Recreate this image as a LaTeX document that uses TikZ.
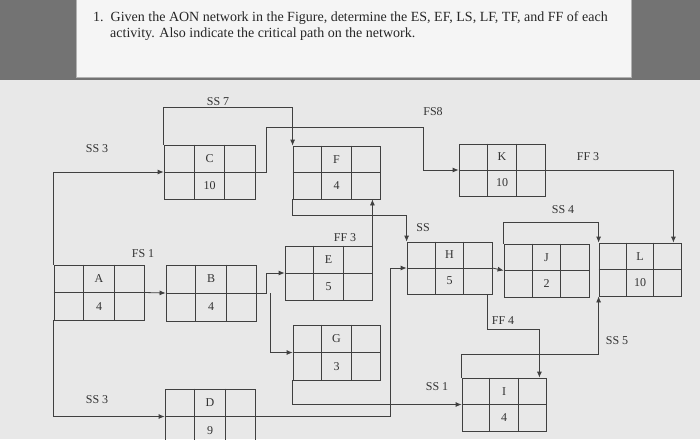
\documentclass[tikz,border=0pt]{standalone}
\usepackage{fontspec}
\setmainfont{Liberation Serif}
\usetikzlibrary{calc,arrows.meta}
\newcommand\act[7]{%
  \node[actbox,minimum width=#4pt,minimum height=#5pt] (#1) at (#2,#3) {};
  \draw[ln] ($(#1.north west)!1/3!(#1.north east)$) -- ($(#1.south west)!1/3!(#1.south east)$);
  \draw[ln] ($(#1.north west)!2/3!(#1.north east)$) -- ($(#1.south west)!2/3!(#1.south east)$);
  \draw[ln] (#1.west) -- (#1.east);
  \node[txt] at ($(#1.center)+(0,-#5/4)$) {#6};
  \node[txt] at ($(#1.center)+(0,#5/4)$) {#7};
}
\begin{document}
\begin{tikzpicture}[x=1pt,y=-1pt,
  ln/.style={draw=black!75,line width=0.8pt},
  actbox/.style={draw=black!75,line width=0.8pt,rectangle,inner sep=0pt},
  arr/.style={ln,-{Latex[length=6pt,width=5pt]}},
  txt/.style={font=\fontsize{12}{14}\selectfont,text=black!80,inner sep=1pt},
  lbl/.style={font=\fontsize{12}{14}\selectfont,text=black!80,inner sep=1pt}]
\useasboundingbox (0,0) rectangle (700,439);
\fill[black!55] (0,0) rectangle (700,439);
\fill[gray!18] (0,80) rectangle (700,439);
\fill[gray!8] (76,0) rectangle (631,77);
\draw[gray!60,line width=1pt] (76,-2) rectangle (631,77);
\node[anchor=north west,align=left,font=\fontsize{14}{16}\selectfont,text=black!85,inner sep=0pt] (title) at (93,11)
 {1.\hspace{7pt}Given the AON network in the Figure, determine the ES, EF, LS, LF, TF, and FF of each\\
 \hspace{17pt}activity. Also indicate the critical path on the network.};
\act{A}{99}{292.5}{90}{55}{A}{4}
\act{B}{211}{293}{90}{56}{B}{4}
\act{C}{209.5}{172}{91}{54}{C}{10}
\act{F}{336.5}{172.5}{87}{53}{F}{4}
\act{E}{328.5}{273}{87}{54}{E}{5}
\act{G}{336.5}{352.5}{87}{55}{G}{3}
\act{D}{210}{416.5}{90}{55}{D}{9}
\act{H}{449.5}{268}{85}{52}{H}{5}
\act{K}{502}{170}{86}{52}{K}{10}
\act{J}{546.5}{270.5}{85}{53}{J}{2}
\act{L}{640}{269.5}{82}{53}{L}{10}
\act{I}{504}{404.5}{84}{53}{I}{4}
% connectors
\draw[arr] (C.north west) -- ++(0,-37) -| (F.north west);
\draw[arr] (C.east) -- ++(11,0) -- ++(0,-45) -| ([xshift=-35pt]K.west) -- (K.west);
\draw[arr] (A.north west) |- (C.west);
\draw[arr] (A.south west) |- (D.west);
\draw[arr] (A.east) -- (B.west);
\draw[arr] (B.east) -- ++(10,0) |- (E.west);
\draw[arr] ([xshift=14pt]B.east) |- (G.west);
\draw[arr] (F.south west) -- ++(0,16) -| (H.north west);
\draw[arr] (E.east) -- (E.east |- F.south);
\draw[arr] (G.south west) |- (I.west);
\draw[arr] (D.east) -| ([xshift=-16pt]H.west) -- (H.west);
\draw[arr] (H.east) -- (J.west);
\draw[arr] ([xshift=-5pt]H.south east) -- ++(0,35) -| ([xshift=-7pt]I.north east);
\draw[arr] (I.north west) -- ++(0,-23) -| (L.south west);
\draw[arr] (J.north west) -- ++(0,-21) -| (L.north west);
\draw[arr] (K.east) -| ([xshift=-8pt]L.north east);
% labels
\node[lbl] at (218,102) {SS 7};
\node[lbl] at (433,112) {FS8};
\node[lbl] at (97,149) {SS 3};
\node[lbl] at (97,400) {SS 3};
\node[lbl] at (143,254) {FS 1};
\node[lbl] at (345,238) {FF 3};
\node[lbl] at (423,228) {SS};
\node[lbl] at (503,321) {FF 4};
\node[lbl] at (437,387) {SS 1};
\node[lbl] at (617,341) {SS 5};
\node[lbl] at (563,210) {SS 4};
\node[lbl] at (588,157) {FF 3};
\end{tikzpicture}
\end{document}
